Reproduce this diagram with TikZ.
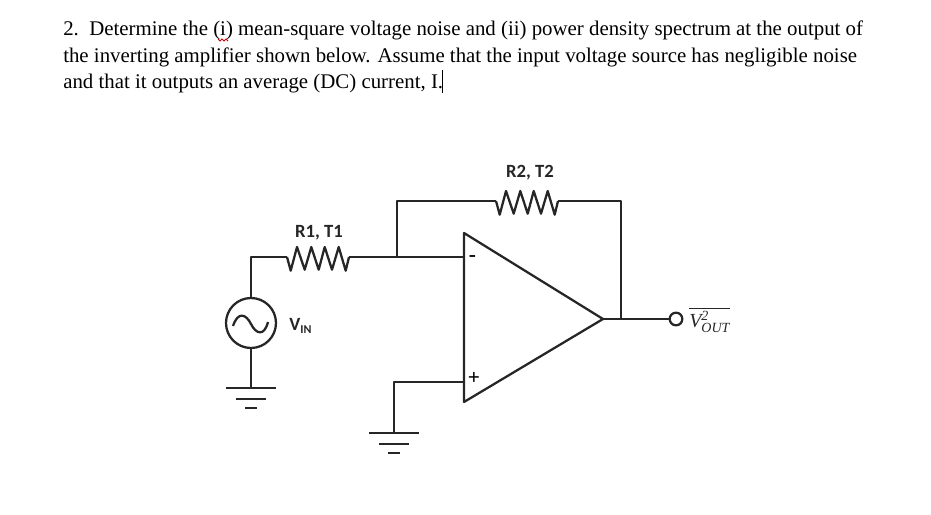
\documentclass[tikz,border=0pt]{standalone}
\usepackage{amsmath}
\usepackage{fontspec}
\setmainfont{Liberation Serif}
\newfontfamily\labelfont{Carlito}
\begin{document}
\begin{tikzpicture}[
			x=0.75pt, y=-0.75pt,
			wire/.style={
				draw=black!85,
				line width=1.7pt,
				line join=round
			},
			question/.style={
				anchor=base west,
				inner sep=0pt,
				font=\fontsize{15.64}{19}\selectfont
			},
			partlabel/.style={
				inner sep=0pt,
				text=black!85,
				font=\labelfont\bfseries\fontsize{14}{16}\selectfont
			},
			pics/zigzag/.style={
				code={
					\draw[wire] (0,0) -- (3.7,13.7) -- (10,-10) -- (17.7,12.7) -- (24.3,-10) -- (31.7,12.7) -- (37.7,-10) -- (45,12.7) -- (51.7,-10) -- (58.7,13.7) -- (62,0);
				}
			}
			]
			\useasboundingbox (0,0) rectangle (931,514);
			
			% Enunciado
			\node[question] (line1) at (63,36) {2.\ \ Determine the (i) mean-square voltage noise and (ii) power density spectrum at the output of};
			\node[question] (line2) at (63,62) {the inverting amplifier shown below. Assume that the input voltage source has negligible noise};
			\node[question] (line3) at (63,88) {and that it outputs an average (DC) current, I.};
			\draw[red!80!black, line width=0.6pt] (218,39) -- (220,41) -- (222,39) -- (224,41) -- (226,39) -- (228,41);
			\draw[black, line width=0.8pt] (442.5,70) -- (442.5,93);
			
			% Fuente de entrada
			\node[circle, wire, minimum size=37.5pt, inner sep=0pt] (vin) at (251,323) {};
			\draw[wire] (233,326) .. controls (238,311) and (246,314) .. (251,324) .. controls (256,334) and (264,337) .. (268,322);
			\node[partlabel, anchor=west] (vinlabel) at (289,326) {V\textsubscript{\fontsize{9}{10}\selectfont IN}};
			
			% Resistencias
			\coordinate (r1in) at (287,257);
			\coordinate (r1out) at (349,257);
			\pic at (r1in) {zigzag};
			\node[partlabel] (r1label) at (319,233) {R1, T1};
			\coordinate (r2in) at (496,201);
			\coordinate (r2out) at (558,201);
			\pic at (r2in) {zigzag};
			\node[partlabel] (r2label) at (530,173) {R2, T2};
			
			% Amplificador
			\coordinate (opatop) at (464,233);
			\coordinate (opabot) at (464,402);
			\coordinate (opatip) at (603,319);
			\coordinate (opminus) at (464,257);
			\coordinate (opplus) at (464,382);
			\draw[wire] (opatop) -- (opatip) -- (opabot) -- cycle;
			\node[inner sep=0pt, font=\bfseries\fontsize{16}{18}\selectfont] (minus) at (472.5,259) {-};
			\node[inner sep=0pt, font=\bfseries\fontsize{16}{18}\selectfont] (plus) at (474,378) {+};
			
			% Tierras
			\coordinate (gnd1) at (251,388);
			\coordinate (gnd2) at (394,433);
			\foreach \gnd in {gnd1, gnd2} {
				\draw[wire] ([xshift=-25*0.75pt]\gnd) -- ([xshift=25*0.75pt]\gnd);
				\draw[wire] ([xshift=-15*0.75pt, yshift=-11*0.75pt]\gnd) -- ([xshift=15*0.75pt, yshift=-11*0.75pt]\gnd);
				\draw[wire] ([xshift=-6*0.75pt, yshift=-20*0.75pt]\gnd) -- ([xshift=6*0.75pt, yshift=-20*0.75pt]\gnd);
			}
			
			% Salida
			\node[circle, wire, minimum size=9.5pt, inner sep=0pt] (vout) at (676,319) {};
			\node[inner sep=0pt, anchor=west, text=black!85, font=\fontsize{15}{17}\selectfont] (voutlabel) at (689,320) {$\overline{\textit{V}^{\textit{2}}_{\textit{OUT}}}$};
			
			% Líneas conectivas
			\coordinate (junction) at (397,257);
			\coordinate (fbtop) at (397,201);
			\coordinate (fbright) at (621,201);
			\coordinate (fbdown) at (621,319);
			\draw[wire] (vin.north) |- (r1in);
			\draw[wire] (vin.south) -- (gnd1);
			\draw[wire] (r1out) -- (opminus);
			\draw[wire] (junction) -- (fbtop) -- (r2in);
			\draw[wire] (r2out) -- (fbright) -- (fbdown);
			\draw[wire] (opatip) -- (vout.west);
			\draw[wire] (opplus) -| (gnd2);
			
		\end{tikzpicture}
\end{document}
